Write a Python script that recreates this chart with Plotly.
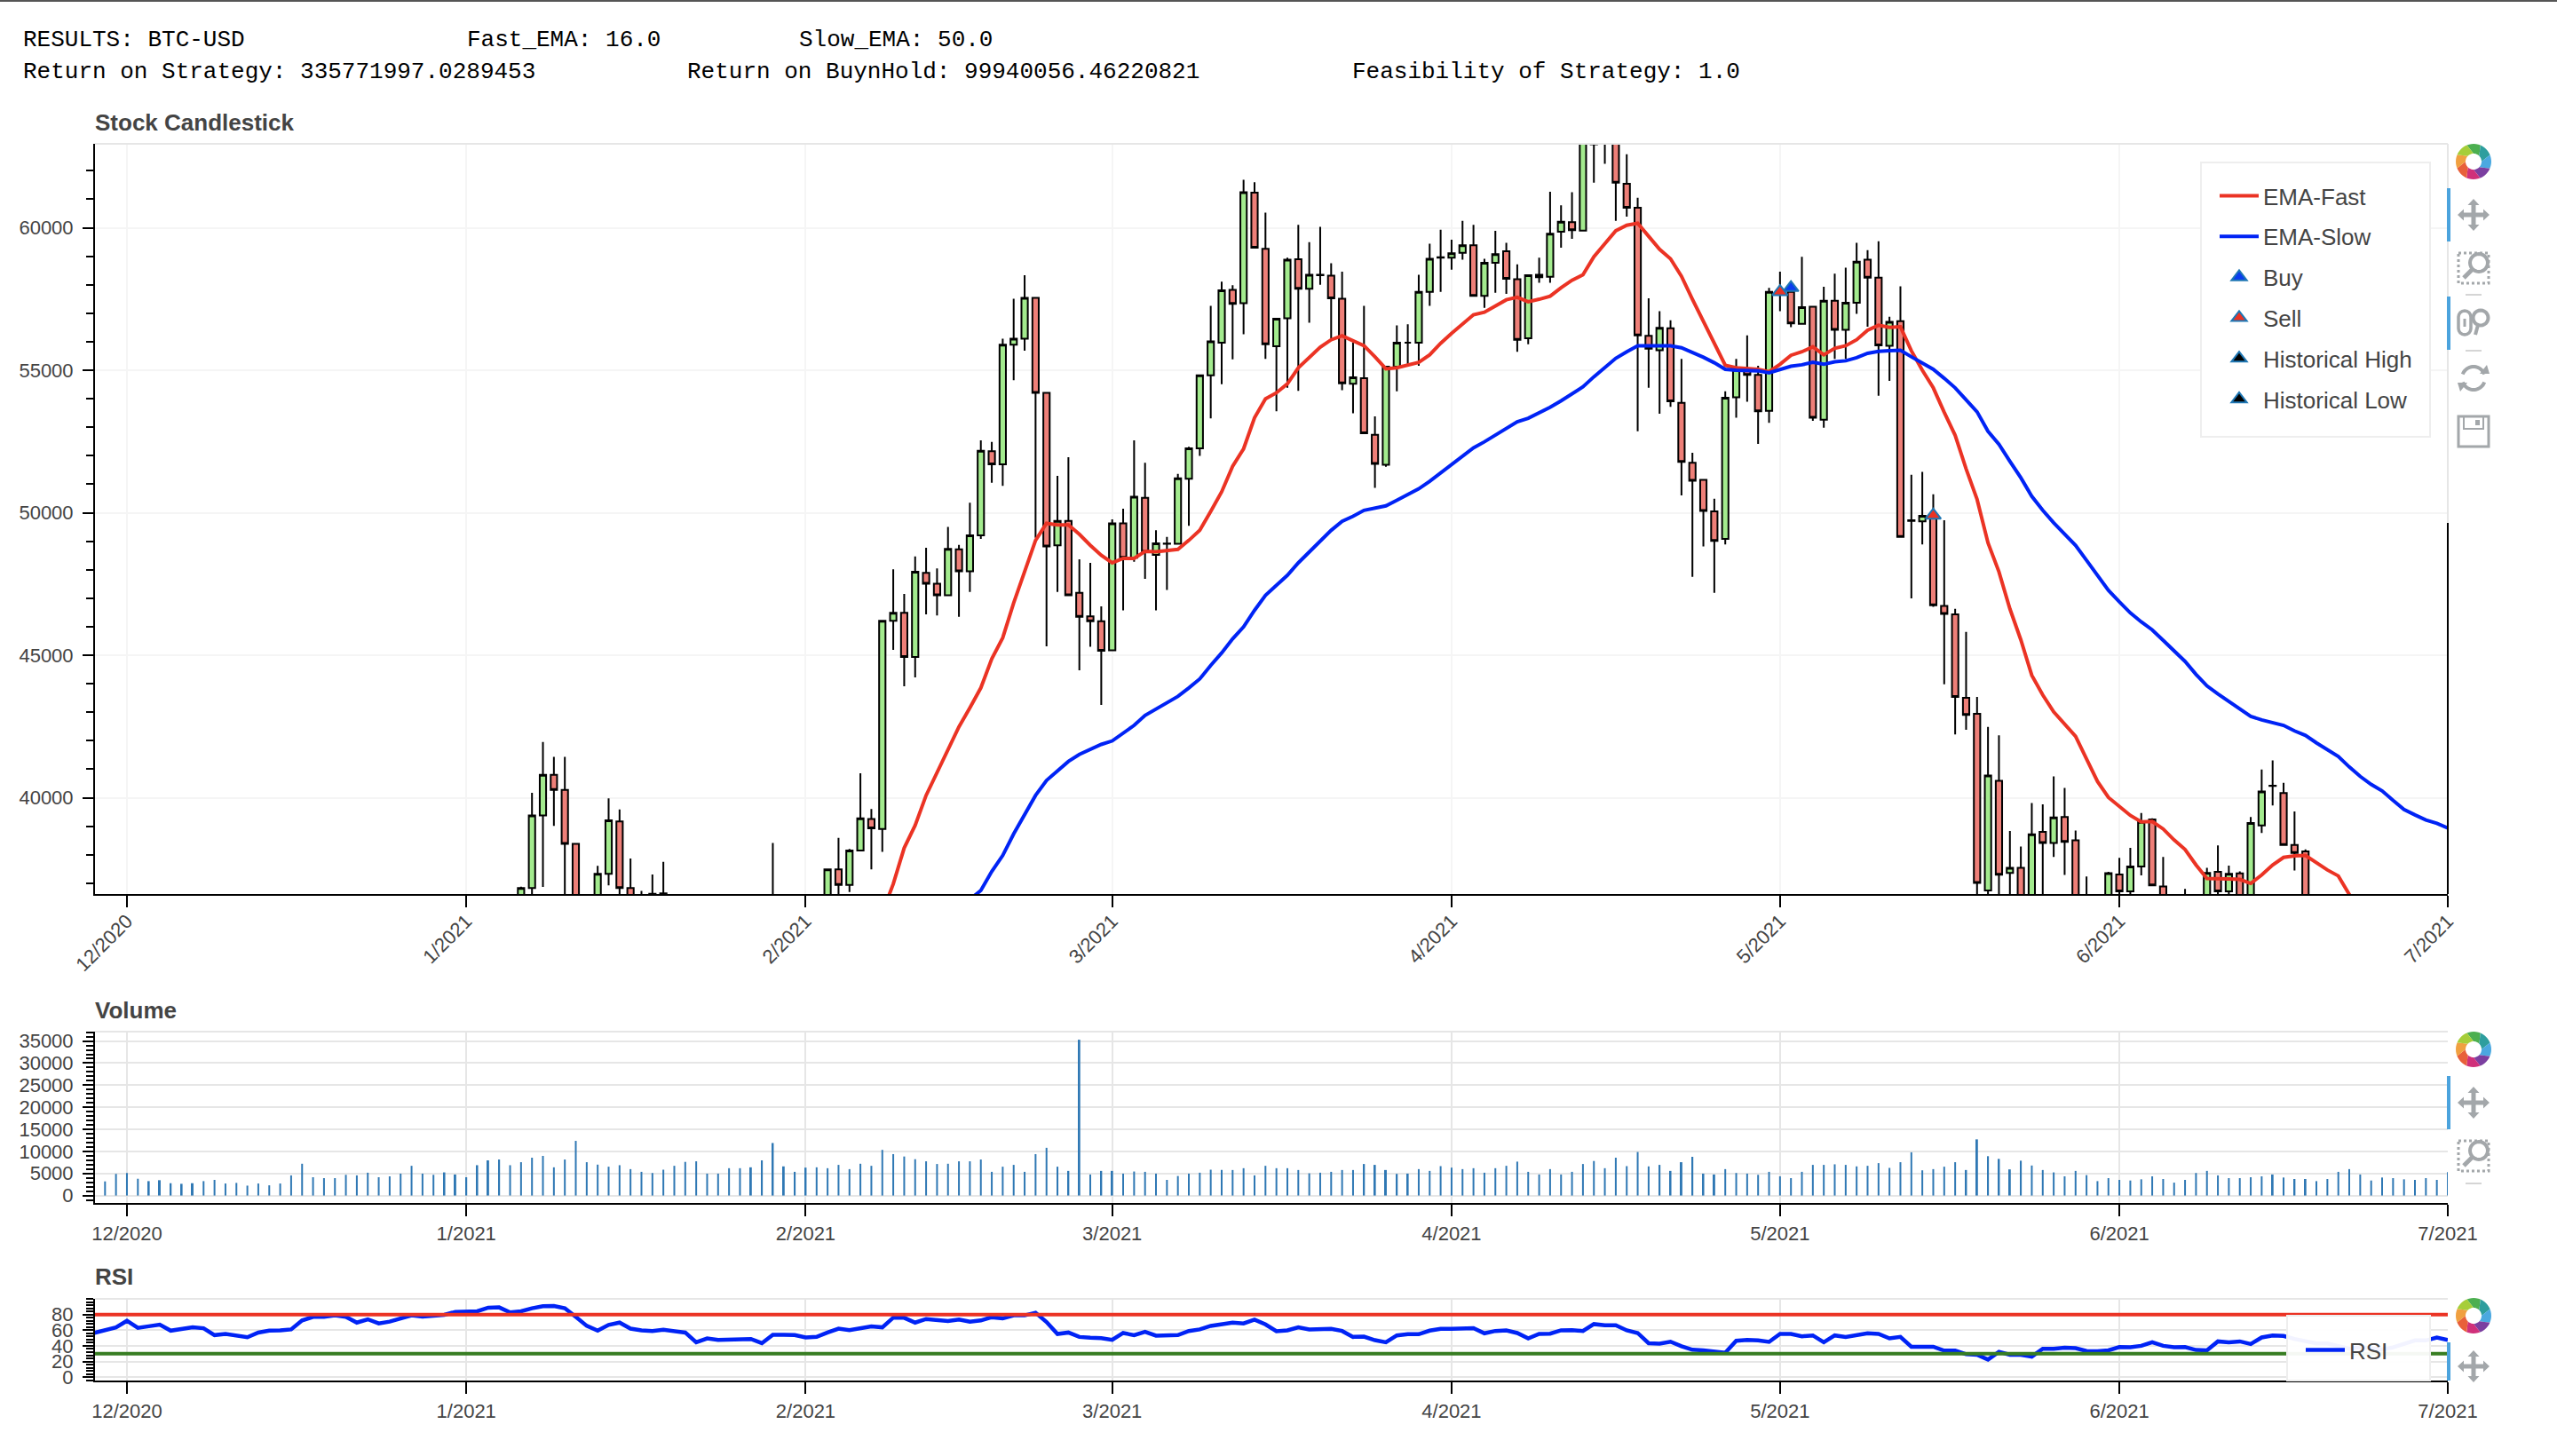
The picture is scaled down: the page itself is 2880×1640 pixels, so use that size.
# BTC-USD EMA crossover backtest dashboard: candles, volume and RSI
import math
import pandas as pd
import plotly.graph_objects as go
from plotly.subplots import make_subplots

W, H = 2880, 1640
FONT = "Liberation Sans"
MONO = "Liberation Mono"
TEXT = "#444444"
RED = "#EB3324"
BLUE = "#0023F5"
GREEN = "#377D22"
STEEL = "#1F77B4"
ICON = "#A3A7AA"

# Candles that reach into the visible price window
candle_dates = (
    [f"2021-01-{d:02d}" for d in list(range(6, 20)) + [29]]
    + [f"2021-02-{d:02d}" for d in range(3, 29)]
    + [f"2021-03-{d:02d}" for d in range(1, 32)]
    + [f"2021-04-{d:02d}" for d in range(1, 31)]
    + [f"2021-05-{d:02d}" for d in range(1, 32)]
    + [f"2021-06-{d:02d}" for d in [1, 2, 3, 4, 5, 7] + list(range(9, 19))]
)
open_prices = [
    34013, 36832, 39378, 40800, 40273, 38378, 35500, 33900, 37325, 39166, 36832, 36000, 35900, 36640, 34300,
    35500, 37482, 36939, 38149, 39255, 38904, 46204, 46485, 44941, 47890, 47504, 47100, 48715, 47942, 49206, 52155, 51698, 55893, 56103, 57542, 54208, 48855, 49715, 47188, 46363, 46188,
    45170, 49628, 48416, 50523, 48522, 48907, 48907, 51190, 52260, 54822, 55963, 57823, 57350, 61228, 59262, 55840, 56823, 58894, 57858, 58350, 58315, 57508, 54523, 54717, 52733, 51681, 55121, 55963, 55963, 57753, 58947,
    58947, 59122, 59385, 57613, 58771, 59175, 58192, 56121, 58350, 58280, 59859, 60193, 59895, 63523, 63075, 63258, 61544, 60702, 56209, 55700, 56472, 53857, 51751, 51154, 50048, 49083, 54050, 55050, 54840, 53576,
    57718, 57753, 56630, 57227, 53260, 57437, 56419, 57367, 58876, 58245, 55858, 56718, 49732, 49698, 49908, 46732, 46434, 43502, 42941, 36745, 40590, 37360, 37536, 34700, 38800, 38413, 39325, 38501, 35700, 34600, 35700,
    37307, 36711, 37587, 39238, 36886, 35800, 33400, 37395, 36711, 37342, 35500, 39027, 40413, 40167, 38343, 38115,
]
high_prices = [
    36880, 40170, 41958, 41432, 41432, 38378, 36600, 37606, 39975, 39589, 37869, 36729, 37307, 37747, 38413,
    37482, 38588, 38200, 40853, 39606, 46204, 48013, 47153, 48469, 48767, 48048, 49505, 48873, 50347, 52541, 52488, 56103, 57507, 58332, 57542, 54208, 51295, 51944, 48364, 48241, 46714,
    49768, 50137, 52541, 51751, 49382, 49153, 51365, 52313, 54822, 57262, 58104, 57981, 61684, 61596, 60526, 56805, 58947, 60105, 59491, 60035, 58753, 58455, 55963, 57262, 53383, 55121, 56577, 56612, 58350, 59438, 59929,
    59578, 60245, 60105, 58911, 59894, 59473, 58718, 58333, 58946, 61263, 60789, 61246, 64000, 64863, 63821, 63594, 62579, 61053, 57525, 57069, 56753, 55401, 52102, 51154, 50487, 54261, 55401, 56226, 55156, 57893,
    58455, 57990, 58982, 57227, 57929, 58385, 58595, 59473, 59210, 59526, 56875, 57946, 51330, 51435, 50645, 49733, 46626, 45819, 43538, 42485, 42186, 38834, 38290, 39817, 39764, 40747, 40343, 38851, 37237, 36400, 37400,
    37887, 38237, 39466, 39274, 37923, 36800, 37537, 38325, 37620, 37412, 39325, 40993, 41308, 40518, 39518, 38185,
]
low_prices = [
    33400, 36160, 36870, 39010, 34500, 30000, 32500, 32400, 36921, 34400, 35400, 33900, 34800, 35800, 32000,
    35400, 36200, 36693, 38149, 37482, 38097, 45187, 43906, 44222, 46433, 46398, 47100, 46346, 47223, 49083, 51049, 50944, 54647, 55682, 49119, 45311, 47223, 47100, 44468, 45293, 43257,
    45170, 46575, 48276, 47680, 46574, 47293, 48907, 49540, 51997, 53313, 54506, 55384, 56261, 59297, 55401, 53559, 54384, 54278, 56665, 58000, 56103, 54296, 53488, 52786, 50873, 51611, 54261, 55173, 55156, 57262, 57753,
    58525, 58876, 57613, 57192, 57718, 57683, 55647, 55910, 58069, 58069, 59298, 59614, 59895, 61579, 62246, 60245, 60386, 52857, 54383, 53471, 53717, 50610, 47750, 48820, 47188, 48890, 53330, 53892, 52418, 53155,
    57069, 56508, 56630, 53225, 52980, 55401, 55401, 56981, 56525, 54103, 54629, 49153, 46995, 48890, 46697, 43976, 42221, 42380, 30681, 35000, 33500, 35300, 31100, 34100, 36623, 37921, 37290, 34700, 33600, 33400, 35700,
    36100, 36500, 37272, 36921, 35000, 33400, 32400, 36000, 35800, 34700, 34900, 38764, 39728, 38343, 37448, 35200,
]
close_prices = [
    36830, 39378, 40800, 40273, 38378, 35500, 33900, 37325, 39203, 36832, 36000, 35900, 36625, 35900, 34300,
    37482, 36939, 38149, 39273, 38922, 46204, 46485, 44941, 47925, 47504, 47100, 48732, 47942, 49206, 52172, 51698, 55893, 56103, 57542, 54208, 48820, 49715, 47100, 46346, 46188, 45152,
    49628, 48416, 50558, 48627, 48925, 48917, 51207, 52260, 54822, 56016, 57806, 57332, 61246, 59297, 55910, 56805, 58876, 57858, 58350, 58333, 57525, 54541, 54752, 52786, 51716, 55121, 55963, 55963, 57753, 58911, 58967,
    59105, 59385, 57613, 58771, 59070, 58209, 56068, 58333, 58263, 59789, 60210, 59912, 63500, 62927, 63314, 61579, 60702, 56226, 55752, 56489, 53910, 51786, 51119, 50066, 49013, 54032, 55015, 54840, 53559, 57753,
    57790, 56647, 57209, 53330, 57437, 56419, 57367, 58806, 58245, 55875, 56700, 49153, 49712, 49890, 46750, 46451, 43537, 42906, 37009, 40782, 37300, 37536, 34700, 38712, 38413, 39308, 38448, 35700, 34600, 35700, 37350,
    36711, 37587, 39150, 36921, 35500, 33500, 37360, 36711, 37325, 35500, 39115, 40220, 40423, 38343, 38062, 35830,
]

# EMA-Fast, daily from 2021-02-08
ema_fast = [
    35956, 36974, 38238, 39027, 40080, 40905, 41660, 42485, 43152, 43853, 44871, 45609, 46837, 47890, 49031, 49627, 49575, 49575, 49242, 48855, 48504,
    48241, 48399, 48399, 48645, 48627, 48662, 48715, 49031, 49382, 50049, 50733, 51628, 52242, 53330, 53997, 54208, 54524, 55085, 55437, 55805, 56068, 56209, 56033, 55858, 55472, 55050, 55085, 55191, 55278, 55542, 55945,
    56296, 56630, 56946, 57033, 57244, 57472, 57560, 57402, 57490, 57595, 57893, 58157, 58350, 58982, 59438, 59894, 60087, 60157, 59701, 59245, 58911, 58297, 57490, 56700, 55928, 55173, 55085, 55068, 55033, 54945,
    55208, 55524, 55647, 55823, 55542, 55770, 55858, 56068, 56401, 56577, 56507, 56525, 55682, 54998, 54383, 53523, 52716, 51540, 50470, 48943, 47925, 46627, 45538, 44293, 43607, 43011, 42590, 42151, 41361, 40572, 40010,
    39712, 39378, 39150, 39167, 38904, 38518, 38185, 37641, 37167, 37167, 37149, 37132, 36991, 37290, 37641, 37904, 37957, 37974, 37711, 37465, 37255, 36570, 35956,
]
# EMA-Slow, daily from 2021-02-16
ema_slow = [
    36430, 36746, 37412, 37974, 38729, 39378, 40080, 40607, 40922, 41273, 41519, 41693, 41870,
    41993, 42274, 42537, 42888, 43116, 43362, 43555, 43853, 44169, 44643, 45082, 45573, 45995, 46574, 47100, 47451, 47802, 48241, 48627, 49031, 49382, 49698, 49873, 50084, 50172, 50242, 50435, 50645, 50838, 51101, 51400,
    51698, 51997, 52277, 52488, 52716, 52979, 53190, 53313, 53506, 53699, 53927, 54173, 54419, 54770, 55103, 55419, 55647, 55858, 55858, 55858, 55858, 55788, 55630, 55454, 55261, 55033, 54998, 54998, 54980, 54910,
    55015, 55138, 55191, 55278, 55208, 55296, 55331, 55437, 55594, 55665, 55682, 55700, 55472, 55243, 55033, 54717, 54383, 53962, 53541, 52857, 52400, 51804, 51225, 50575, 50084, 49645, 49259, 48855, 48329, 47785, 47276,
    46872, 46486, 46170, 45889, 45521, 45152, 44784, 44327, 43924, 43643, 43380, 43134, 42853, 42730, 42625, 42537, 42344, 42186, 41923, 41677, 41449, 41080, 40747, 40466, 40238, 39904, 39589, 39396, 39220, 39098,
    38939,
]

buy_dates = ["2021-05-02"]
buy_prices = [57894]
sell_dates = ["2021-05-01", "2021-05-15"]
sell_prices = [57753, 49908]
# both extremes sit outside the visible window
high_date, high_price = ["2021-04-14"], [64863]
low_date, low_price = ["2020-11-29"], [16000]

# Volume, daily from 2020-11-29
volume = [
    3200, 4900,
    5100, 3800, 3260, 3470, 2790, 2650, 2790, 3260, 3540, 2720, 2860, 2240, 2720, 2310, 2720, 4560, 7200, 4150, 3940, 3940, 4690, 4560, 5170, 4150, 4350, 4960, 6730, 4960, 4690, 5240, 4760,
    4150, 6870, 7960, 8160, 6870, 7550, 8570, 8980, 6390, 8160, 12380, 7550, 7000, 6530, 6870, 5980, 5370, 5100, 5850, 6730, 7620, 7750, 4960, 4960, 6190, 6190, 6390, 7960, 11900, 6600, 5370,
    6320, 6390, 6190, 6940, 5980, 7200, 6730, 10340, 9380, 8840, 8230, 7750, 7140, 7200, 7750, 7750, 8160, 5370, 6530, 6940, 5370, 9380, 10810, 6530, 5580, 35300, 4760, 5580,
    5580, 4960, 5440, 5370, 4960, 3540, 4420, 4960, 5170, 5850, 5780, 5780, 6190, 4560, 6730, 6190, 6190, 5780, 5030, 5170, 5370, 5780, 5780, 7140, 6940, 5780, 4900, 4960, 5980, 5580, 6660,
    6320, 5980, 6190, 5170, 6190, 6730, 7680, 5370, 4760, 5980, 4760, 5370, 7140, 7820, 6190, 8570, 6660, 9860, 6600, 6940, 5580, 7550, 8770, 4960, 4760, 5980, 5100, 4960, 4690, 5370,
    4350, 3940, 5370, 6940, 6940, 7070, 6940, 6600, 6730, 7340, 6260, 7550, 9790, 5710, 5980, 6530, 7550, 5780, 12720, 8910, 8300, 5920, 7890, 6800, 5780, 5240, 4350, 5580, 4620, 3260, 3940,
    3540, 3400, 3670, 4350, 3740, 2920, 3540, 5100, 5580, 4560, 3940, 3940, 4150, 4350, 4760, 4080, 3740, 3740, 3260, 3740, 5370, 5980, 4760, 3400, 4080, 3940, 3670, 3540, 3940, 3540,
    5300,
]

# RSI, daily from 2020-11-28
rsi = [
    56.4, 60, 63.6,
    72, 62.9, 65, 67, 59.4, 62, 63.6, 62.5, 53.7, 55.2, 53, 51, 57, 59.4, 59.8, 61, 72.4, 77, 77, 78.9, 77, 69.7, 73.9, 68.6, 70.9, 75, 78.9, 77.3, 78.9, 79.6, 83.4,
    83.8, 84.2, 88.8, 89.1, 82.7, 84.2, 88, 90.7, 91, 88, 77, 65.5, 59.4, 66.7, 69.7, 62, 59.8, 59, 60.6, 59, 57, 44.6, 49.5, 47.6, 48, 48.4, 48.8, 43.4, 54, 54, 53.7,
    50.7, 51.4, 57, 62, 60, 62.5, 64.8, 63.6, 76, 75.8, 69.7, 74.3, 73, 71.6, 73.5, 70.9, 72.4, 76.6, 75, 78.9, 78.9, 82.3, 70.5, 55.2, 57, 51.4, 50.3, 49.9,
    47.6, 56.4, 53.7, 57.9, 53, 53.3, 53.7, 59, 61, 65.5, 67.4, 69.7, 68.6, 73.5, 67.4, 58.7, 59.8, 63.6, 61, 61.3, 61.7, 59, 51.4, 51.8, 47.2, 44.6, 53.3, 54.9, 54.9, 59.4, 61.7,
    61.7, 62, 62.5, 56, 59, 59.8, 56.4, 49.5, 55.2, 55.6, 59.8, 60, 59, 67.8, 66.3, 66.3, 59.8, 56.4, 43.4, 42.7, 45.3, 39.6, 35, 34.3, 32.8, 31.2, 46.5, 47.6, 46.9, 45,
    55.2, 55.2, 52.2, 53.3, 44.6, 53.3, 51.4, 53.3, 56, 55.2, 49.5, 51.4, 38.9, 38.9, 38.9, 33.9, 33.9, 29.3, 28.6, 22.5, 32.4, 28.6, 28.6, 26.3, 36.2, 36.2, 37.7, 37, 33.5, 33.1, 34.3,
    38.5, 38.1, 40, 44.6, 40, 38.1, 38.5, 34.7, 34.3, 45.7, 44.6, 45.7, 42.3, 50.7, 53.3, 52.6, 48.8, 46.5, 43, 43, 40, 36.2, 38.1, 37, 35.4, 38.1, 41.9, 46.9, 46.9, 50.7,
    47.6,
]
RSI_UPPER = 80
RSI_LOWER = 30

tick_dates = ["2020-12-01", "2021-01-01", "2021-02-01", "2021-03-01", "2021-04-01", "2021-05-01", "2021-06-01", "2021-07-01"]
tick_labels = ["12/2020", "1/2021", "2/2021", "3/2021", "4/2021", "5/2021", "6/2021", "7/2021"]


def px(x):
    return x / W


def py(y):
    return 1 - y / H


def path(points, close=True):
    d = "M " + " L ".join(f"{px(x):.5f} {py(y):.5f}" for x, y in points)
    return d + " Z" if close else d


def arc(cx, cy, r, start, end, n=24):
    return [(cx + r * math.cos(math.radians(start + (end - start) * i / n)),
             cy + r * math.sin(math.radians(start + (end - start) * i / n))) for i in range(n + 1)]


def fill_shape(points, color):
    return dict(type="path", path=path(points), xref="paper", yref="paper",
                fillcolor=color, line=dict(width=0), layer="above")


def line_shape(points, color=ICON, width=3, close=False, dash="solid"):
    return dict(type="path", path=path(points, close), xref="paper", yref="paper",
                line=dict(color=color, width=width, dash=dash), layer="above")


def logo(cx, cy):
    colors = ["#4CAF50", "#2E9E9E", "#4BA8E0", "#7B3FA0", "#D0307A", "#E8603A", "#F0A040", "#A6CE39"]
    out = []
    for i, c in enumerate(colors):
        a0, a1 = -112 + i * 45, -112 + (i + 1) * 45
        out.append(fill_shape(arc(cx, cy, 20, a0, a1, 6) + arc(cx, cy, 9, a1 + 22, a0 + 22, 6), c))
    return out


def move_icon(cx, cy):
    pts = [(0, -18), (6.5, -11), (2.5, -11), (2.5, -2.5), (11, -2.5), (11, -6.5), (18, 0), (11, 6.5),
           (11, 2.5), (2.5, 2.5), (2.5, 11), (6.5, 11), (0, 18), (-6.5, 11), (-2.5, 11), (-2.5, 2.5),
           (-11, 2.5), (-11, 6.5), (-18, 0), (-11, -6.5), (-11, -2.5), (-2.5, -2.5), (-2.5, -11), (-6.5, -11)]
    return [fill_shape([(cx + x, cy + y) for x, y in pts], ICON)]


def box_zoom_icon(cx, cy):
    return [
        line_shape([(cx - 17, cy - 17), (cx + 17, cy - 17), (cx + 17, cy + 17), (cx - 17, cy + 17)], width=3, close=True, dash="dot"),
        dict(type="path", path=path(arc(cx + 6, cy - 6, 10, 0, 360)), xref="paper", yref="paper",
             fillcolor="white", line=dict(color=ICON, width=4), layer="above"),
        line_shape([(cx - 2, cy + 2), (cx - 11, cy + 11)], width=5),
    ]


def wheel_zoom_icon(cx, cy):
    return [
        line_shape(arc(cx - 10, cy - 6, 7, 180, 360, 8) + arc(cx - 10, cy + 7, 7, 0, 180, 8), width=3.5, close=True),
        line_shape([(cx - 10, cy - 4), (cx - 10, cy + 5)], width=3),
        line_shape(arc(cx + 8, cy - 5, 8.5, 0, 360), width=4, close=True),
        line_shape([(cx + 5, cy + 3), (cx + 2, cy + 14)], width=4),
    ]


def reset_icon(cx, cy):
    return [
        line_shape(arc(cx, cy, 13, 200, 340), width=4),
        line_shape(arc(cx, cy, 13, 20, 160), width=4),
        fill_shape([(cx + 7, cy - 5), (cx + 18, cy - 5), (cx + 15, cy - 15)], ICON),
        fill_shape([(cx - 7, cy + 5), (cx - 18, cy + 5), (cx - 15, cy + 15)], ICON),
    ]


def save_icon(cx, cy):
    return [
        line_shape([(cx - 17, cy - 17), (cx + 17, cy - 17), (cx + 17, cy + 17), (cx - 17, cy + 17)], width=3, close=True),
        line_shape([(cx - 11, cy - 17), (cx - 11, cy - 3), (cx + 11, cy - 3), (cx + 11, cy - 17)], width=2),
        fill_shape([(cx + 2, cy - 13), (cx + 7, cy - 13), (cx + 7, cy - 7), (cx + 2, cy - 7)], ICON),
    ]


def sep(cx, cy):
    return [line_shape([(cx - 9, cy), (cx + 9, cy)], color="#D5D5D5", width=2)]


def active_bar(y0, y1):
    return [line_shape([(2758, y0), (2758, y1)], color="#4BA3DD", width=4)]


fig = make_subplots(rows=3, cols=1)

fig.add_trace(go.Candlestick(
    x=candle_dates, open=open_prices, high=high_prices, low=low_prices, close=close_prices,
    increasing=dict(line=dict(color="black", width=2), fillcolor="#A3EB8E"),
    decreasing=dict(line=dict(color="black", width=2), fillcolor="#EE7F78"),
    whiskerwidth=0, showlegend=False, hoverinfo="skip",
), row=1, col=1)

fig.add_trace(go.Scatter(x=pd.date_range("2021-02-08", periods=len(ema_fast)), y=ema_fast, mode="lines",
                         name="EMA-Fast", legendgroup="a", line=dict(color=RED, width=4)), row=1, col=1)
fig.add_trace(go.Scatter(x=pd.date_range("2021-02-16", periods=len(ema_slow)), y=ema_slow, mode="lines",
                         name="EMA-Slow", legendgroup="b", line=dict(color=BLUE, width=4)), row=1, col=1)


def triangle(name, group, x, y, color):
    return go.Scatter(x=x, y=y, mode="markers", name=name, legendgroup=group,
                      marker=dict(symbol="triangle-up", size=15, color=color, line=dict(color=STEEL, width=2)))


fig.add_trace(triangle("Buy", "c", buy_dates, buy_prices, "#0A3CF0"), row=1, col=1)
fig.add_trace(triangle("Sell", "d", sell_dates, sell_prices, RED), row=1, col=1)
fig.add_trace(triangle("Historical High", "e", high_date, high_price, "black"), row=1, col=1)
fig.add_trace(triangle("Historical Low", "f", low_date, low_price, "black"), row=1, col=1)

fig.add_trace(go.Bar(x=pd.date_range("2020-11-29", periods=len(volume)), y=volume, width=14000000,
                     marker=dict(color="#2F78B4", line=dict(width=0)), showlegend=False), row=2, col=1)

fig.add_trace(go.Scatter(x=pd.date_range("2020-11-28", periods=len(rsi)), y=rsi, mode="lines", name="RSI",
                         legend="legend2", line=dict(color=BLUE, width=4.5)), row=3, col=1)
fig.add_hline(y=RSI_UPPER, line_color=RED, line_width=4, row=3, col=1)
fig.add_hline(y=RSI_LOWER, line_color=GREEN, line_width=4, row=3, col=1)

common_x = dict(
    type="date", range=["2020-11-28 02:00", "2021-07-01"], tickmode="array", tickvals=tick_dates, ticktext=tick_labels,
    ticks="outside", ticklen=13, tickwidth=2, tickcolor="black", showline=True, linecolor="black", linewidth=2,
    tickfont=dict(family=FONT, size=22, color=TEXT), zeroline=False, ticklabelstandoff=1,
    rangeslider=dict(visible=False),
)
common_y = dict(
    ticks="outside", ticklen=12, tickwidth=2, tickcolor="black", showline=True, linecolor="black", linewidth=2,
    tickfont=dict(family=FONT, size=22, color=TEXT), zeroline=False, ticklabelstandoff=6, tickformat="d",
)

fig.update_xaxes(common_x)
fig.update_yaxes(common_y)

fig.update_xaxes(domain=[px(107), px(2757)], gridcolor="#F5F5F5", gridwidth=2, tickangle=-45, ticklabelstandoff=-6, row=1, col=1)
fig.update_xaxes(domain=[px(107), px(2757)], gridcolor="#E6E6E6", gridwidth=2, tickangle=0, row=2, col=1)
fig.update_xaxes(domain=[px(107), px(2757)], gridcolor="#E6E6E6", gridwidth=2, tickangle=0, row=3, col=1)

fig.update_yaxes(domain=[py(1007), py(162)], range=[36620, 62944], dtick=5000, gridcolor="#F5F5F5", gridwidth=2,
                 minor=dict(dtick=1000, ticks="outside", ticklen=8, tickwidth=2, tickcolor="black", showgrid=False), row=1, col=1)
fig.update_yaxes(domain=[py(1355), py(1162)], range=[-1690, 37130], dtick=5000, gridcolor="#E6E6E6", gridwidth=2,
                 minor=dict(dtick=1000, ticks="outside", ticklen=8, tickwidth=2, tickcolor="black", showgrid=False), row=2, col=1)
fig.update_yaxes(domain=[py(1555), py(1463)], range=[-4.3, 100], tickmode="array", tickvals=[0, 20, 40, 60, 80],
                 gridcolor="#E6E6E6", gridwidth=2,
                 minor=dict(dtick=4, ticks="outside", ticklen=8, tickwidth=2, tickcolor="black", showgrid=False), row=3, col=1)

shapes = [
    line_shape([(0, 1), (W, 1)], color="#555555", width=2),
    line_shape([(107, 162), (2757, 162)], color="#E6E6E6", width=2),
    line_shape([(2757, 162), (2757, 589)], color="#E6E6E6", width=2),
    line_shape([(2757, 589), (2757, 1007)], color="black", width=2),
    line_shape([(107, 1162), (2757, 1162)], color="#E6E6E6", width=2),
    line_shape([(107, 1463), (2757, 1463)], color="#E6E6E6", width=2),
    dict(type="rect", xref="paper", yref="paper", x0=px(2479), x1=px(2737), y0=py(492), y1=py(183),
         fillcolor="rgba(255,255,255,0.95)", line=dict(color="#EEEEEE", width=2), layer="above"),
    dict(type="rect", xref="paper", yref="paper", x0=px(2576), x1=px(2737), y0=py(1555), y1=py(1482),
         fillcolor="rgba(255,255,255,0.95)", line=dict(color="#EEEEEE", width=2), layer="above"),
]
shapes += logo(2786, 182) + move_icon(2786, 242) + box_zoom_icon(2786, 302) + sep(2786, 332)
shapes += wheel_zoom_icon(2786, 363) + sep(2786, 395) + reset_icon(2786, 426) + save_icon(2786, 486)
shapes += active_bar(212, 272) + active_bar(334, 394)
shapes += logo(2786, 1182) + move_icon(2786, 1242) + box_zoom_icon(2786, 1302) + sep(2786, 1333) + active_bar(1212, 1272)
shapes += logo(2786, 1482) + move_icon(2786, 1539) + active_bar(1512, 1555)


def note(text, x, y, family=MONO, size=26, color="black", bold=False):
    return dict(text=f"<b>{text}</b>" if bold else text, x=px(x), y=py(y), xref="paper", yref="paper",
                xanchor="left", yanchor="middle", showarrow=False, font=dict(family=family, size=size, color=color))


annotations = [
    note("RESULTS: BTC-USD", 24, 45),
    note("Fast_EMA: 16.0", 524, 45),
    note("Slow_EMA: 50.0", 898, 45),
    note("Return on Strategy: 335771997.0289453", 24, 81),
    note("Return on BuynHold: 99940056.46220821", 772, 81),
    note("Feasibility of Strategy: 1.0", 1521, 81),
    note("Stock Candlestick", 105, 138, FONT, 26, TEXT, True),
    note("Volume", 105, 1138, FONT, 26, TEXT, True),
    note("RSI", 105, 1438, FONT, 26, TEXT, True),
]

fig.update_layout(
    width=W, height=H, margin=dict(l=0, r=0, t=0, b=0), autosize=False,
    paper_bgcolor="white", plot_bgcolor="white", template=None, boxgap=0.42, boxgroupgap=0,
    shapes=fig.layout.shapes + tuple(shapes), annotations=annotations, hovermode=False,
    showlegend=True,
    legend=dict(x=px(2495), y=py(197), xanchor="left", yanchor="top", bgcolor="rgba(0,0,0,0)", borderwidth=0,
                font=dict(family=FONT, size=26, color=TEXT), itemwidth=44, tracegroupgap=9, traceorder="grouped"),
    legend2=dict(x=px(2592), y=py(1497), xanchor="left", yanchor="top", bgcolor="rgba(0,0,0,0)", borderwidth=0,
                 font=dict(family=FONT, size=26, color=TEXT), itemwidth=44),
)

fig.write_html("out.html", config={"displayModeBar": False}, post_script="document.body.style.margin='0';")
